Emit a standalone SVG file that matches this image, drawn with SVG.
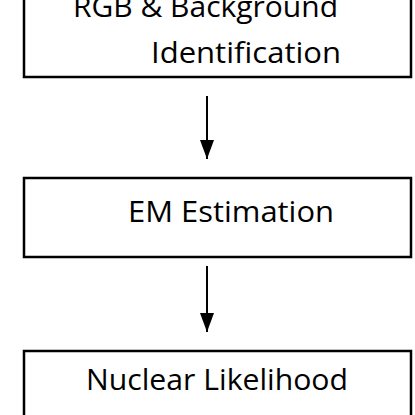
<svg xmlns="http://www.w3.org/2000/svg" width="415" height="415" viewBox="0 0 415 415">
<defs>
<style>
.box{fill:#fff;stroke:#000;stroke-width:2.5}
.t{font-family:"Open Sans","Liberation Sans",sans-serif;font-size:29px;fill:#000}
.c{stroke:#000;stroke-width:2;fill:none}
</style>
<marker id="ah" viewBox="0 0 10 10" refX="10" refY="5" markerWidth="19" markerHeight="14" preserveAspectRatio="none" markerUnits="userSpaceOnUse" orient="auto">
<path d="M0,0 L10,5 L0,10 z" fill="#000"/>
</marker>
</defs>
<rect width="415" height="415" fill="#fff"/>
<g id="node-rgb">
<rect class="box" x="24" y="-20" width="387" height="97"/>
<text class="t" x="73" y="17" textLength="265" lengthAdjust="spacingAndGlyphs">RGB &amp; Background</text>
<text class="t" x="151" y="63" textLength="190" lengthAdjust="spacingAndGlyphs">Identification</text>
</g>
<g id="node-em">
<rect class="box" x="24" y="178" width="387" height="79"/>
<text class="t" x="128" y="222" textLength="206" lengthAdjust="spacingAndGlyphs">EM Estimation</text>
</g>
<g id="node-nuclear">
<rect class="box" x="24" y="351" width="387" height="80"/>
<text class="t" x="86" y="390" textLength="262" lengthAdjust="spacingAndGlyphs">Nuclear Likelihood</text>
</g>
<g id="connectors">
<line x1="207" y1="96" x2="207" y2="159" class="c" marker-end="url(#ah)"/>
<line x1="207" y1="266" x2="207" y2="332" class="c" marker-end="url(#ah)"/>
</g>
</svg>
